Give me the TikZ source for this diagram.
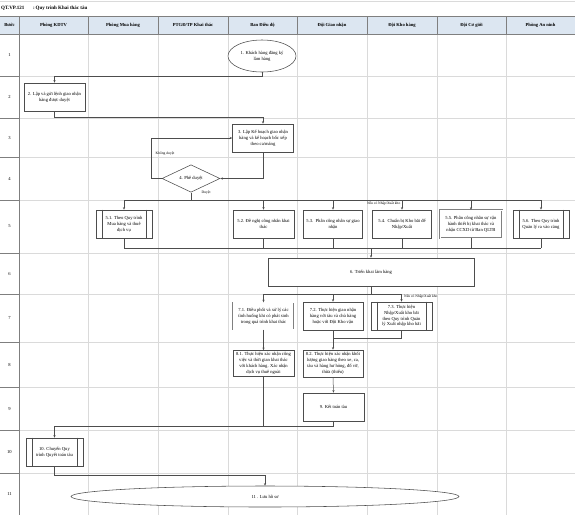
\documentclass[tikz,border=0pt]{standalone}
\usepackage{fontspec}
\setmainfont{Liberation Serif}
\usetikzlibrary{calc,shapes.geometric,arrows.meta}

\definecolor{hdrblue}{HTML}{DCE6F1}
\definecolor{gridgray}{HTML}{DADADA}
\definecolor{darkline}{HTML}{7F7F7F}
\definecolor{flowline}{HTML}{4D4D4D}

\tikzset{
  stepbox/.style={draw=flowline, line width=0.55pt, fill=white, align=center,
    inner sep=1pt, font=\fontsize{4.6}{5.9}\selectfont},
  dblbox/.style={stepbox, draw=black!50, double=white, double distance=0.45pt, line width=0.4pt},
  endpt/.style={stepbox, ellipse, inner sep=0pt},
  decide/.style={stepbox, diamond, inner sep=0pt},
  flow/.style={draw=flowline, line width=0.5pt},
  arr/.style={flow, -{Stealth[length=2.6pt,width=2.2pt]}},
  note/.style={font=\fontsize{3.6}{4}\selectfont, inner sep=0.5pt},
  hdr/.style={font=\bfseries\fontsize{4.6}{5.5}\selectfont},
}

\begin{document}
\begin{tikzpicture}[x=1pt,y=-1pt]
        \useasboundingbox (0,0) rectangle (575,515);

        % khung luoi
        \draw[gridgray, line width=0.8pt] (0,1) -- (575,1);
        \fill[hdrblue] (0,16) rectangle (575,34);
        \foreach \y in {76,118,157,200,253,294,342,387,430,473}
          \draw[gridgray, line width=0.6pt] (19,\y) -- (575,\y);
        \foreach \y in {76,118,157,200,253,294,342,387,430,473}
          \draw[darkline, line width=0.6pt] (0,\y) -- (19,\y);
        \foreach \x in {88,158,228,297,367,437,506}
          \draw[gridgray, line width=0.6pt] (\x,34) -- (\x,515);
        \draw[darkline, line width=0.7pt] (19,16) -- (19,515);
        \foreach \x in {88,158,228,297,367,437,506}
          \draw[darkline, line width=0.6pt] (\x,16) -- (\x,34);
        \draw[darkline, line width=0.6pt] (0,16) -- (575,16);
        \draw[darkline, line width=0.6pt] (0,34) -- (575,34);

        % tieu de
        \node[anchor=west, inner sep=0pt, font=\bfseries\fontsize{5}{6}\selectfont] (ma) at (1,8.5) {QT.VP.121};
        \node[anchor=west, inner sep=0pt, font=\bfseries\fontsize{5}{6}\selectfont] (ten) at (33,8.5) {:\,Quy trình Khai thác tàu};

        % dong tieu de cot
        \foreach \x/\t in {9.5/Bước, 53.5/Phòng KDTV, 123/Phòng Mua hàng, 193/{PTGĐ/TP Khai thác},
                           262.5/Ban Điều độ, 332/Đội Giao nhận, 402/Đội Kho hàng, 471.5/Đội Cơ giới, 540.5/Phòng An ninh}
          \node[hdr] at (\x,25) {\t};

        % so buoc
        \foreach \n/\y in {1/55, 2/97, 3/137.5, 4/178.5, 5/226.5, 6/273.5, 7/318, 8/364.5, 9/408.5, 10/451.5, 11/494}
          \node[font=\fontsize{4.6}{5}\selectfont] at (9.5,\y) {\n};

        % cac buoc
        \node[endpt, minimum width=68, minimum height=32] (s1) at (262,56) {1. Khách hàng đăng ký\\làm hàng};
        \node[stepbox, minimum width=61, minimum height=28] (b2) at (54.5,97) {2. Lập và gửi lệnh giao nhận\\hàng được duyệt};
        \node[stepbox, minimum width=61, minimum height=28] (b3) at (263,138) {3. Lập Kế hoạch giao nhận\\hàng và kế hoạch bốc xếp\\theo ca/máng};
        \node[decide, minimum width=58, minimum height=22] (d4) at (191,178.5) {4. Phê duyệt};

        \node[stepbox, minimum width=56, minimum height=28] (b51) at (124,224) {5.1. Theo Quy trình\\Mua hàng và thuê\\dịch vụ};
        \node[stepbox, minimum width=61, minimum height=28] (b52) at (263.5,224) {5.2. Đề nghị công nhân khai\\thác};
        \node[stepbox, minimum width=59, minimum height=28] (b53) at (333,224) {5.3.\, Phân công nhân sự giao\\nhận};
        \node[stepbox, minimum width=59, minimum height=28] (b54) at (402,224) {5.4.\, Chuẩn bị Kho bãi để\\Nhập/Xuất};
        \node[dblbox, minimum width=62, minimum height=28] (b55) at (471,224) {5.5. Phân công nhân sự vận\\hành thiết bị khai thác và\\nhận CCXD từ Ban QLTB};
        \node[stepbox, minimum width=56, minimum height=28] (b56) at (541,224) {5.6. Theo Quy trình\\Quản lý ra vào cảng};

        \node[stepbox, minimum width=206, minimum height=28] (b6) at (371,272) {6. Triển khai làm hàng};

        \node[dblbox, minimum width=61, minimum height=27] (b71) at (263.5,316) {7.1. Điều phối và xử lý các\\tình huống khi có phát sinh\\trong quá trình khai thác};
        \node[stepbox, minimum width=60, minimum height=28] (b72) at (333,316) {7.2. Thực hiện giao nhận\\hàng với tàu và chủ hàng\\hoặc với Đội Kho vận};
        \node[stepbox, minimum width=61, minimum height=28] (b73) at (401.5,316) {7.3. Thực hiện\\Nhập/Xuất kho bãi\\theo Quy trình Quản\\lý Xuất nhập kho bãi};

        \node[stepbox, minimum width=61, minimum height=26] (b81) at (263.5,363.5) {8.1. Thực hiện xác nhận công\\việc và thời gian khai thác\\với khách hàng. Xác nhận\\dịch vụ thuê ngoài};
        \node[stepbox, minimum width=60, minimum height=27] (b82) at (333,363.5) {8.2. Thực hiện xác nhận khối\\lượng giao hàng theo xe, ca,\\tàu và hàng hư hỏng, đổ vỡ,\\thừa (thiếu)};

        \node[stepbox, minimum width=61, minimum height=28] (b9) at (333.5,407) {9. Kết toán tàu};
        \node[stepbox, minimum width=57, minimum height=28] (b10) at (54.5,452) {10. Chuyển Quy\\trình Quyết toán tàu};
        \node[endpt, minimum width=388, minimum height=21] (e11) at (265,496.5) {11 . Lưu hồ sơ};

        % hai vach cua quy trinh con
        \foreach \b in {b51,b56,b73,b10} {
          \draw[flow] ([xshift=6.5pt]\b.north west) -- ([xshift=6.5pt]\b.south west);
          \draw[flow] ([xshift=-6.5pt]\b.north east) -- ([xshift=-6.5pt]\b.south east);
        }

        % duong noi
        \coordinate (bus5) at (0,200);
        \coordinate (bus5b) at (0,248);
        \coordinate (bus7) at (0,294);
        \coordinate (bus8) at (0,338);
        \coordinate (bus9) at (0,426);

        \draw[arr] (s1.south) -- ++(0,4) -| (b2.north);
        \draw[arr] (b2.south) -- ++(0,6) -| (b3.north);
        \draw[arr] (b3.south) |- (d4.east);
        \draw[arr] (d4.west) -- ++(-10,0) |- (b3.west);
        \node[note, anchor=west] at (155,154) {Không duyệt};

        \draw[flow] (d4.south) -- (d4.south |- bus5);
        \node[note, anchor=west] at (201,193) {Duyệt};
        \draw[flow] (b51.north |- bus5) -- (b56.north |- bus5);
        \foreach \b in {b51,b52,b53,b54,b55,b56}
          \draw[arr] (\b.north |- bus5) -- (\b.north);
        \node[note, anchor=north east] at ([xshift=-1pt,yshift=-1pt]b54.north |- bus5) {Nếu có Nhập/Xuất kho};

        \foreach \b in {b51,b52,b53,b54,b55,b56}
          \draw[flow] (\b.south) -- (\b.south |- bus5b);
        \draw[flow] (b51.south |- bus5b) -- (b56.south |- bus5b);
        \draw[arr] (b6.north |- bus5b) -- (b6.north);

        \draw[flow] (b6.south) -- (b6.south |- bus7);
        \draw[flow] (b71.north |- bus7) -- (b73.north |- bus7);
        \foreach \b in {b71,b72,b73}
          \draw[arr] (\b.north |- bus7) -- (\b.north);
        \node[note, anchor=north west] at ([xshift=2pt,yshift=-0.5pt]b73.north |- bus7) {Nếu có Nhập/Xuất kho};

        \draw[arr] (b71.south) -- (b81.north);
        \draw[flow] (b72.south) -- (b72.south |- bus8);
        \draw[flow] (b73.south) -- (b73.south |- bus8) -- (b72.south |- bus8);
        \draw[arr] (b72.south |- bus8) -- (b82.north);
        \draw[arr] (b82.south) -- (b9.north);

        \draw[flow] (b81.south) -- (b81.south |- bus9);
        \draw[arr] (b9.south) |- (bus9 -| b81.south) -| (b10.north);
        \draw[arr] (b10.south) -- ++(0,9) -| (e11.north);
    \end{tikzpicture}
\end{document}
